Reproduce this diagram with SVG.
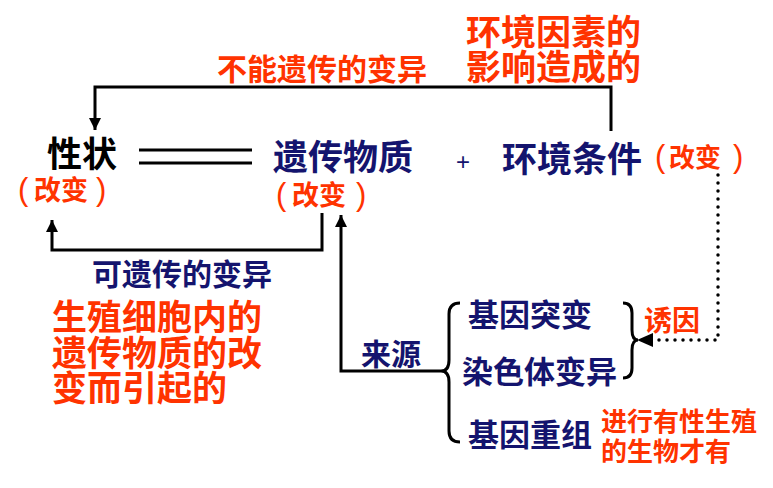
<svg xmlns="http://www.w3.org/2000/svg" width="773" height="488" viewBox="0 0 773 488">
<style>
text{font-family:"Noto Sans CJK SC","Noto Sans",sans-serif;font-weight:bold}
.r{fill:#FF3300}
.n{fill:#14146E}
.k{fill:#000}
.p{font-family:"Liberation Sans",sans-serif;font-weight:normal;font-size:31px}
.ln{fill:none;stroke:#000;stroke-width:3}
.dot{fill:none;stroke:#000;stroke-width:3.5;stroke-linecap:round;stroke-dasharray:0 8}
</style>
<defs>
<marker id="ah" markerUnits="userSpaceOnUse" markerWidth="12" markerHeight="14" refX="12" refY="6" orient="auto" viewBox="0 0 12 12">
<path d="M0,0 L12,6 L0,12 Z" fill="#000"/>
</marker>
</defs>
<rect width="773" height="488" fill="#fff"/>
<g id="connectors">
<path class="ln" d="M611,131 V87 H95 V130" marker-end="url(#ah)"/>
<path class="ln" d="M322,213 V250 H52 V220" marker-end="url(#ah)"/>
<path class="ln" d="M441,371 H341 V215" marker-end="url(#ah)"/>
<path class="ln" d="M460,303 Q449,303 449,314 V360 Q449,371 441,371 Q449,371 449,382 V431 Q449,442 460,442"/>
<path class="ln" d="M623,303 Q632,303 632,313 V330 Q632,340 638,340 Q632,340 632,350 V368 Q632,378 623,378"/>
<path class="dot" d="M718,175 V340 H654"/>
<path d="M637,340 L653,333 L653,347 Z" fill="#000"/>
<g id="equals"><line class="ln" x1="139" y1="150" x2="252" y2="150"/><line class="ln" x1="139" y1="163" x2="252" y2="163"/></g>
</g>
<g id="label-nonheritable"><text class="r" x="217" y="80" font-size="30">不能遗传的变异</text></g>
<g id="label-env-factor"><text class="r" x="466" y="45" font-size="35">环境因素的</text><text class="r" x="466" y="80" font-size="35">影响造成的</text></g>
<g id="node-trait"><text class="k" x="47" y="167" font-size="35">性状</text>
<text class="r" font-size="27" y="200"><tspan class="p" x="18">(</tspan><tspan x="34">改变</tspan><tspan class="p" x="96">)</tspan></text></g>
<g id="node-genetic"><text class="n" x="273" y="170" font-size="35">遗传物质</text>
<text class="r" font-size="27" y="205"><tspan class="p" x="276">(</tspan><tspan x="292">改变</tspan><tspan class="p" x="356">)</tspan></text></g>
<g id="plus"><text class="n" x="463" y="170" font-size="24" text-anchor="middle" style="font-family:'Liberation Sans',sans-serif;font-weight:normal">+</text></g>
<g id="node-env"><text class="n" x="502" y="172" font-size="35">环境条件</text>
<text class="r" font-size="26" y="167"><tspan class="p" x="655">(</tspan><tspan x="669">改变</tspan><tspan class="p" x="733">)</tspan></text></g>
<g id="label-heritable"><text class="n" x="92" y="285" font-size="30">可遗传的变异</text></g>
<g id="note-germ"><text class="r" x="52" y="330" font-size="35">生殖细胞内的</text><text class="r" x="52" y="366" font-size="35">遗传物质的改</text><text class="r" x="52" y="401" font-size="35">变而引起的</text></g>
<g id="label-source"><text class="n" x="361" y="365" font-size="30">来源</text></g>
<g id="node-mutation"><text class="n" x="468" y="326" font-size="31">基因突变</text></g>
<g id="node-chromosome"><text class="n" x="462" y="383" font-size="31">染色体变异</text></g>
<g id="node-recomb"><text class="n" x="468" y="446" font-size="31">基因重组</text></g>
<g id="label-inducer"><text class="r" x="644" y="331" font-size="28">诱因</text></g>
<g id="note-sexual"><text class="r" x="601" y="431" font-size="26">进行有性生殖</text><text class="r" x="601" y="461" font-size="26">的生物才有</text></g>
</svg>
